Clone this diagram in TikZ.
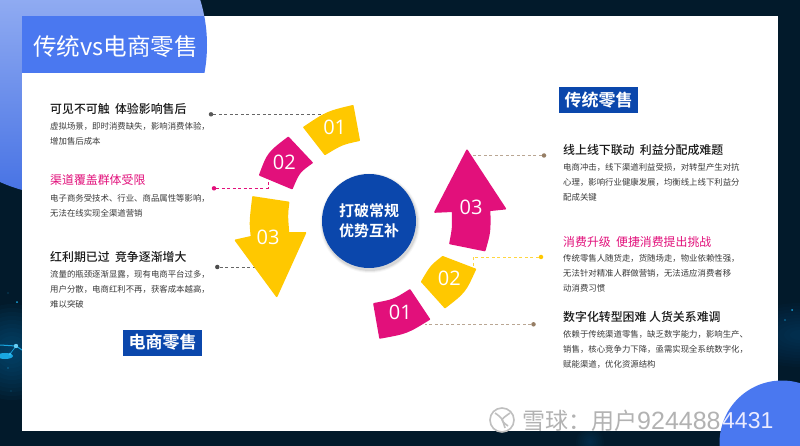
\documentclass[tikz,border=0pt]{standalone}
\usepackage{fontspec}
\setmainfont[BoldFont={Noto Sans CJK SC Medium}]{Noto Sans CJK SC}
\newfontfamily\strongf{Noto Sans CJK SC Bold}
\newfontfamily\numf{Open Sans}
\newfontfamily\wmf{Liberation Sans}
\definecolor{bgdark}{HTML}{021A2B}
\definecolor{pinkc}{HTML}{E2107B}
\definecolor{yellowc}{HTML}{FFC800}
\definecolor{bluec}{HTML}{0B47AC}
\definecolor{bandc}{HTML}{4A78F0}
\definecolor{glow}{HTML}{0A6CAA}
\definecolor{bright}{HTML}{19A6E0}
\definecolor{bodyc}{HTML}{3A3A3A}
\tikzset{
  head/.style={anchor=north west,inner sep=0pt,align=left,font=\fontsize{11.9}{14}\selectfont\bfseries,text=black!90},
  headp/.style={anchor=north west,inner sep=0pt,align=left,font=\fontsize{11.9}{14}\selectfont,text=pinkc},
  body/.style={anchor=north west,inner sep=0pt,align=left,font=\fontsize{8.4}{15}\selectfont,text=bodyc},
  tag/.style={fill=bluec,text=white,inner sep=0pt,minimum width=79pt,minimum height=26pt,font=\fontsize{17}{18}\selectfont\strongf},
  num/.style={text=white,inner sep=0pt,font=\fontsize{20}{22}\selectfont\numf},
  dot/.style={circle,inner sep=0pt,minimum size=4.5pt},
  conn/.style={dash pattern=on 3pt off 2.5pt,line width=.8pt},
  seg/.style={line width=1.6pt,line join=round},
  star/.style={circle,inner sep=0pt,fill=bright},
  wm/.style={inner sep=0pt,anchor=west,font=\fontsize{23}{25}\selectfont},
}
\begin{document}
\begin{tikzpicture}[x=1pt,y=-1pt]
\useasboundingbox (0,0) rectangle (800,446);
% background
\fill[bgdark] (0,0) rectangle (800,446);
\foreach \r in {48,44,...,4}
  \fill[glow,opacity=.055] (12,352) circle (\r);
\foreach \r in {64,58,...,10}
  \fill[glow,opacity=.035] (800,335) ellipse ({\r} and {\r*.5});
\foreach \r in {14,12,...,2}
  \fill[glow,opacity=.04] (590,442) circle (\r);
\draw[bright,line width=1pt] (0,345) -- (16,346) -- (22,350);
\draw[bright,line width=.7pt] (16,346) -- (10,354);
\fill[bright] (5,356) ellipse (8 and 3);
\fill[white!40!cyan] (16,346) circle (2.2);
\fill[white!20!cyan] (10,354) circle (1.5);
\node[star,minimum size=2pt] at (17,302) {};
\node[star,minimum size=1.4pt,opacity=.6] at (8,293) {};
\node[star,minimum size=1.6pt,opacity=.5] at (8,368) {};
\node[star,minimum size=1.4pt,opacity=.5] at (11,391) {};
\node[star,minimum size=2pt] at (792,310) {};
\node[star,minimum size=1.6pt,opacity=.7] at (785,320) {};
% top-left disc
\path[shade,top color=white!60!bandc,bottom color=bandc!95!black] (60,45) ellipse (147 and 150);
% bottom-right disc
\coordinate (brc) at (782,443);
% panel
\fill[white] (22,16) rectangle (778,431);
\begin{scope}
  \clip (60,45) ellipse (147 and 150);
  \fill[bandc] (22,16) rectangle (215,73);
\end{scope}
\fill[bandc] (brc) circle (62.5);
\node[inner sep=0pt,anchor=west,text=white,font=\fontsize{23.6}{25}\selectfont] (title) at (33,46.5) {传统vs电商零售};
% tags
\node[tag] (tagE) at (162.5,342.5) {电商零售};
\node[tag] (tagT) at (598.5,100.5) {传统零售};
% left texts
\node[head] (h1) at (50,103) {可见不可触\ \ 体验影响售后};
\node[body] (b1) at (50,122) {虚拟场景，即时消费缺失，影响消费体验，\\增加售后成本};
\node[headp] (h2) at (50,174) {渠道覆盖群体受限};
\node[body] (b2) at (50,194) {电子商务受技术、行业、商品属性等影响，\\无法在线实现全渠道营销};
\node[head] (h3) at (50,251) {红利期已过\ \ 竞争逐渐增大};
\node[body] (b3) at (50,270) {流量的瓶颈逐渐显露，现有电商平台过多，\\用户分散，电商红利不再，获客成本越高，\\难以突破};
% right texts
\node[head] (h4) at (563,144) {线上线下联动\ \ 利益分配成难题};
\node[body] (b4) at (563,163) {电商冲击，线下渠道利益受损，对转型产生对抗\\心理，影响行业健康发展，均衡线上线下利益分\\配成关键};
\node[headp] (h5) at (563,236) {消费升级\ \ 便捷消费提出挑战};
\node[body] (b5) at (563,254) {传统零售人随货走，货随场走，物业依赖性强，\\无法针对精准人群做营销，无法适应消费者移\\动消费习惯};
\node[head] (h6) at (563,311) {数字化转型困难 人货关系难调};
\node[body] (b6) at (563,330) {依赖于传统渠道零售，缺乏数字能力，影响生产、\\销售，核心竞争力下降，亟需实现全系统数字化，\\赋能渠道，优化资源结构};
% connectors
\node[dot,fill=black!65] (d1) at (211,114.3) {};
\coordinate (e1) at (325,114.3);
\draw[conn,black!60] (d1) -- (e1);
\node[dot,fill=pinkc] (d2) at (214,188.3) {};
\coordinate (e2) at (268,180);
\draw[conn,pinkc] (d2) -| (e2);
\node[dot,fill=black!70] (d3) at (217.3,267) {};
\coordinate (e3) at (258,267);
\draw[conn,black!60] (d3) -- (e3);
\node[dot,fill=black!45!brown!70] (d4) at (544,155.5) {};
\coordinate (e4) at (465,155.5);
\draw[conn,black!40!brown!50] (d4) -- (e4);
\node[dot,fill=yellowc] (d5) at (541,257) {};
\coordinate (e5) at (473,268);
\draw[conn,yellowc!75] (d5) -| (e5);
\node[dot,fill=black!45!brown!70] (d6) at (533.5,324.3) {};
\coordinate (e6) at (425,324.3);
\draw[conn,black!40!brown!50] (d6) -- (e6);
% left segments
\filldraw[seg,draw=yellowc,fill=yellowc] (304,127.3) .. controls (327,112) .. (352.8,105.8) -- (359.2,140.3) .. controls (342,144) .. (325,154.3) -- cycle;
\filldraw[seg,draw=pinkc,fill=pinkc] (288.3,137.5) -- (312,162.7) .. controls (299,172) .. (292,188.5) -- (259.8,175) .. controls (268,153) .. cycle;
\filldraw[seg,draw=yellowc,fill=yellowc] (253,197) -- (288.6,202.4) .. controls (287,215) .. (288.5,233) -- (305.5,232.8) -- (276.7,296.3) -- (235.5,240.3) -- (251.5,236.7) .. controls (250,222) .. cycle;
% right segments
\filldraw[seg,draw=pinkc,fill=pinkc] (374,303.8) .. controls (394,300) .. (409.8,290) -- (429.3,319.2) .. controls (407,333) .. (380,337.9) -- cycle;
\filldraw[seg,draw=yellowc,fill=yellowc] (442.7,256.8) .. controls (431,266) .. (421.8,281.7) -- (445,307.5) .. controls (465,292) .. (475.3,269.3) -- cycle;
\filldraw[seg,draw=pinkc,fill=pinkc] (467,150.3) -- (505.3,208.7) -- (489.6,210.3) .. controls (490,232) .. (484.7,250.5) -- (450,243.5) .. controls (453,228) .. (452.6,211.2) -- (435,212) -- cycle;
% numbers
\node[num] (n1) at (334.7,127.7) {01};
\node[num] (n2) at (284.3,162.3) {02};
\node[num] (n3) at (268,237.3) {03};
\node[num] (m3) at (471,207.7) {03};
\node[num] (m2) at (449.3,278.3) {02};
\node[num] (m1) at (400.3,312.7) {01};
% hub
\foreach \r/\o in {50/.03,49/.05,48/.08}
  \fill[black,opacity=\o] (370,223) circle (\r);
\node[circle,fill=bluec,minimum size=94pt,inner sep=0pt,text=white,align=center,font=\fontsize{15}{19.5}\selectfont\strongf] (hub) at (369,221) {打破常规\\优势互补};
% watermark
\draw[black!25,line width=1.6pt] (502,420) circle (12);
\draw[black!25,line width=1.6pt] (495,413) .. controls (502,418) .. (505,428);
\draw[black!25,line width=1.6pt] (510,413) .. controls (500,420) .. (508,426);
\node[wm,text=black!30] (wa) at (522,420.5) {雪球：用户};
\node[wm,text=black!30,font=\fontsize{25}{25}\selectfont\wmf] (wb) at (637,420.5) {924488};
\node[wm,text=white!92!blue,font=\fontsize{23}{25}\selectfont\wmf] (wc) at (722,420.5) {4431};
\end{tikzpicture}
\end{document}
